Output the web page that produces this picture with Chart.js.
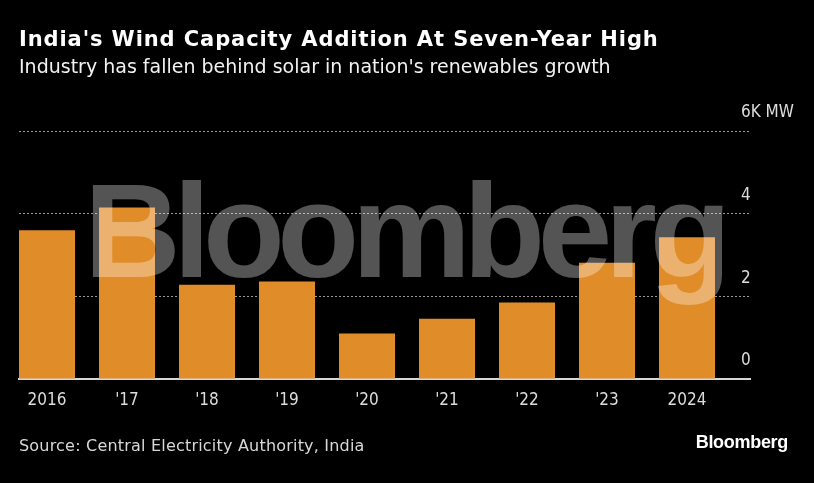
<!DOCTYPE html>
<html>
<head>
<meta charset="utf-8">
<script src="https://cdn.jsdelivr.net/npm/chart.js@4/dist/chart.umd.min.js"></script>
<style>
  body { margin: 0; background: #000; width: 814px; height: 483px; overflow: hidden; position: relative; }
  .txt { position: absolute; white-space: nowrap; color: #fff; line-height: 1; font-family: 'DejaVu Sans', sans-serif; }
  #title { left: 19px; top: 29px; font-size: 21px; font-weight: bold; letter-spacing: 0.9px; }
  #subtitle { left: 19px; top: 57px; font-size: 19px; color: #f2f2f2; }
  #source { left: 19px; top: 438px; font-size: 16px; color: #d8d8d8; letter-spacing: 0.2px; }
  #logo { right: 26px; top: 433px; font-size: 18px; font-weight: bold; font-family: 'Liberation Sans', Arial, sans-serif; letter-spacing: -0.3px; }
  #watermark { left: 84px; top: 164px; font-size: 134px; font-weight: bold; font-family: 'Liberation Sans', Arial, sans-serif; letter-spacing: -7.5px; color: rgba(255, 255, 255, 0.33); pointer-events: none; }
  canvas { position: absolute; left: 0; top: 0; }
</style>
</head>
<body>
<canvas id="windChart" width="814" height="483"></canvas>
<div class="txt" id="title">India's Wind Capacity Addition At Seven-Year High</div>
<div class="txt" id="subtitle">Industry has fallen behind solar in nation's renewables growth</div>
<div class="txt" id="source">Source: Central Electricity Authority, India</div>
<div class="txt" id="logo">Bloomberg</div>
<div class="txt" id="watermark">Bloomberg</div>
<script>
  // wind capacity added per year, thousand MW
  const years = ["2016", "'17", "'18", "'19", "'20", "'21", "'22", "'23", "2024"];
  const capacityK = [3.6, 4.15, 2.28, 2.36, 1.1, 1.46, 1.85, 2.81, 3.43];
  const yTicks = [0, 2, 4, 6];
  const yTopLabel = "6K MW";

  const labelFont = { family: "'DejaVu Sans Condensed', 'DejaVu Sans', sans-serif", size: 17 };

  // mirrored right-axis labels are placed at (axis left + padding - widest),
  // so measure the widest label to land them just inside the plot edge
  const measure = document.createElement("canvas").getContext("2d");
  measure.font = labelFont.size + "px " + labelFont.family;
  const widestY = measure.measureText(yTopLabel).width;

  const windOptions = {
    responsive: false,
    animation: false,
    devicePixelRatio: 1,
    layout: { padding: { top: 131, left: 19, right: 0, bottom: 0 } },
    plugins: {
      legend: { display: false },
      tooltip: { enabled: false },
    },
    scales: {
      x: {
        type: "linear",
        offset: false,
        min: -0.35,
        max: 8.7875,
        grid: { display: false },
        border: { display: true, color: "#d6d6d6", width: 2 },
        ticks: {
          stepSize: 1,
          includeBounds: false,
          autoSkip: false,
          maxRotation: 0,
          padding: 3,
          color: "#dcdcdc",
          font: labelFont,
          callback: (v) => years[v] ?? "",
        },
        afterFit: (scale) => { scale.height = 104; },
      },
      y: {
        position: "right",
        min: 0,
        max: 6,
        grid: {
          drawTicks: false,
          color: (ctx) => (ctx.tick && ctx.tick.value === 0 ? "rgba(0,0,0,0)" : "#9a9a9a"),
        },
        border: { display: false, dash: [2, 2] },
        afterBuildTicks: (scale) => { scale.ticks = yTicks.map((v) => ({ value: v })); },
        ticks: {
          mirror: true,
          crossAlign: "far",
          padding: widestY - 9,
          labelOffset: -18,
          color: "#dcdcdc",
          font: labelFont,
          callback: (v) => (v === 6 ? yTopLabel : v),
        },
        afterFit: (scale) => { scale.width = 64; },
      },
    },
  };

  new Chart(document.getElementById("windChart").getContext("2d"), {
    type: "bar",
    data: {
      datasets: [
        {
          data: capacityK.map((v, i) => ({ x: i, y: v })),
          backgroundColor: "#e08c28",
          borderWidth: 0,
          categoryPercentage: 1,
          barPercentage: 0.7,
        },
      ],
    },
    options: windOptions,
  });
</script>
</body>
</html>
